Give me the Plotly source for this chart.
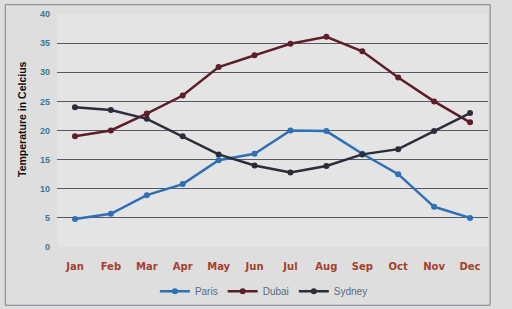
import plotly.graph_objects as go

months = ["Jan", "Feb", "Mar", "Apr", "May", "Jun", "Jul", "Aug", "Sep", "Oct", "Nov", "Dec"]
paris = [4.8, 5.7, 8.9, 10.8, 14.9, 16.0, 20.0, 19.9, 16.0, 12.5, 6.9, 5.0]
dubai = [19.0, 20.0, 22.9, 26.0, 30.9, 32.9, 34.9, 36.1, 33.6, 29.1, 25.0, 21.4]
sydney = [24.0, 23.5, 22.0, 19.0, 15.9, 14.0, 12.8, 13.9, 15.9, 16.8, 19.9, 23.0]
y_ticks = [0, 5, 10, 15, 20, 25, 30, 35, 40]

series = [
    ("Paris", paris, "#2f6fb3"),
    ("Dubai", dubai, "#5c1e28"),
    ("Sydney", sydney, "#2b2d3a"),
]

fig = go.Figure()
for name, vals, col in series:
    fig.add_trace(go.Scatter(
        x=months, y=vals, name=name, mode="lines+markers",
        line=dict(color=col, width=2.5),
        marker=dict(color=col, size=6, symbol="circle"),
    ))

fig.update_layout(
    width=512, height=309,
    margin=dict(l=57, r=24, t=14, b=62, autoexpand=False),
    paper_bgcolor="#dedede",
    plot_bgcolor="#e4e4e4",
    font=dict(family="Liberation Sans, Arial, sans-serif"),
    showlegend=True,
    legend=dict(
        orientation="h", x=0.48, xanchor="center", y=-0.19, yanchor="middle",
        font=dict(size=10, color="#5a6a80"), bgcolor="rgba(0,0,0,0)",
        itemwidth=30, tracegroupgap=0,
    ),
    xaxis=dict(
        showgrid=False, zeroline=False, showline=False, ticks="",
        tickfont=dict(size=10, color="#a5402e", family="Arial Black, DejaVu Sans, sans-serif"),
        tickprefix="<b>", ticksuffix="</b>",
        ticklabelstandoff=12, automargin=False,
        range=[-0.5, 11.5],
    ),
    yaxis=dict(
        range=[0, 40], tickvals=y_ticks, ticktext=["<b>%d</b>" % v for v in y_ticks],
        showgrid=True, gridcolor="#555a64", gridwidth=1,
        zeroline=False, showline=False, ticks="",
        tickfont=dict(size=9, color="#3b7896"),
        ticklabelstandoff=6, automargin=False,
    ),
    annotations=[dict(
        text="<b>Temperature in Celcius</b>", xref="paper", yref="paper",
        x=-0.081, y=0.55, textangle=-90, showarrow=False,
        font=dict(size=10.5, color="#111111"), xanchor="center", yanchor="middle",
    )],
    shapes=[dict(
        type="rect", xref="paper", yref="paper", x0=-0.12, x1=1.005, y0=-0.25, y1=1.04,
        line=dict(color="#7a8590", width=1),
    )],
)

fig.write_html("out.html")
